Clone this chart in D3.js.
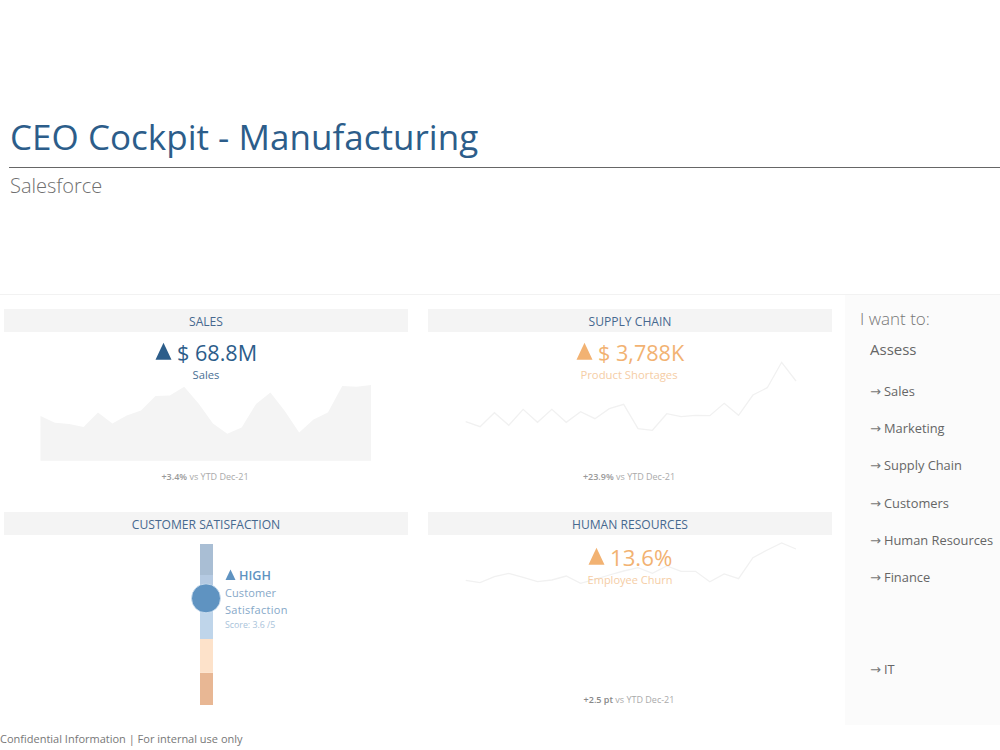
<!DOCTYPE html>
<html>
<head>
<meta charset="utf-8">
<script src="https://cdn.jsdelivr.net/npm/d3@7"></script>
<style>
  html, body { margin: 0; padding: 0; background: #fff; overflow: hidden; }
  text { font-family: "Open Sans", sans-serif; }
</style>
</head>
<body>
<script>
const months = ["Jan-20","Feb-20","Mar-20","Apr-20","May-20","Jun-20","Jul-20","Aug-20","Sep-20","Oct-20","Nov-20","Dec-20",
  "Jan-21","Feb-21","Mar-21","Apr-21","May-21","Jun-21","Jul-21","Aug-21","Sep-21","Oct-21","Nov-21","Dec-21"];

// relative units since the chart has no axis
const salesValues = [44.7,38,36.7,33.7,48.3,37.3,45.3,50.3,64.7,65.3,74,57.3,37.3,27,33.3,56.7,68.3,49.7,28.3,41.3,48.3,74.7,74,75.7];
const supplyValues = [38.3,33.3,47.3,34.7,50.7,37.7,50.7,37.7,48.3,41.3,51.3,55.7,31.3,29.7,46.3,43.3,44.7,44.3,56.7,44.7,65,72.3,97.7,79];
const churnValues = [9.7,7.3,13.3,16.7,12.7,8.3,10,14,6.7,10.7,15,19,22.3,16.7,24,18.7,18.7,8.3,16,11.3,32.3,40,47,41];

const bandEdges = [1, 1.8, 2.64, 3.65, 4.23, 5];
const bandColors = ["#e8b794", "#fde2ca", "#bfd5ea", "#b5cae2", "#a9bed4"];
const satisfactionScore = 3.65;

const navItems = ["Sales", "Marketing", "Supply Chain", "Customers", "Human Resources", "Finance", "IT"];
const navRows = [391, 428, 465, 503, 540, 577, 669];

const BLUE = "#2c5d8a", ORANGE = "#f2b272", STEEL = "#5f93c1";

const svg = d3.select("body").append("svg")
  .attr("width", 1000)
  .attr("height", 750)
  .style("display", "block");

function label(x, y, txt, size, fill, anchor, weight) {
  return svg.append("text")
    .attr("x", x)
    .attr("y", y)
    .attr("text-anchor", anchor || "start")
    .style("font-size", size + "px")
    .style("font-weight", weight || 400)
    .style("fill", fill)
    .text(txt);
}

// tableau's up triangle is taller than an equilateral one
function triangle(cx, cy, side, fill) {
  svg.append("path")
    .attr("d", d3.symbol(d3.symbolTriangle, side * side * Math.sqrt(3) / 4)())
    .attr("transform", `translate(${cx},${cy}) scale(1,1.22)`)
    .attr("fill", fill);
}

/* ---------------- Header ---------------- */
label(10, 150, "CEO Cockpit - Manufacturing", 35, BLUE, "start", 500).style("letter-spacing", "0.02px");
svg.append("line")
  .attr("x1", 9).attr("x2", 1000)
  .attr("y1", 167.5).attr("y2", 167.5)
  .attr("stroke", "#666");
label(10, 193, "Salesforce", 20, "#6f6f6f", "start", 300);

/* ---------------- Frames ---------------- */
svg.append("line")
  .attr("x1", 0).attr("x2", 1000)
  .attr("y1", 294.5).attr("y2", 294.5)
  .attr("stroke", "#f2f2f2");
svg.append("rect")
  .attr("x", 845).attr("y", 295)
  .attr("width", 155).attr("height", 430)
  .attr("fill", "#fbfbfb");

const headers = [
  {x: 4, y: 309, name: "SALES"},
  {x: 428, y: 309, name: "SUPPLY CHAIN"},
  {x: 4, y: 512, name: "CUSTOMER SATISFACTION"},
  {x: 428, y: 512, name: "HUMAN RESOURCES"}
];
headers.forEach(h => {
  svg.append("rect")
    .attr("x", h.x).attr("y", h.y)
    .attr("width", 404).attr("height", 23)
    .attr("fill", "#f4f4f4");
  label(h.x + 202, h.y + 17, h.name, 12.1, "#46688f", "middle");
});

/* ---------------- Sales ---------------- */
const xSales = d3.scalePoint().domain(months).range([40.5, 371]);
const ySales = d3.scaleLinear().domain([0, 75.7]).range([460.7, 385]);
svg.append("path")
  .attr("d", d3.area()
    .x((d, i) => xSales(months[i]))
    .y0(ySales(0))
    .y1(d => ySales(d))(salesValues))
  .attr("fill", "#f4f4f4");
triangle(163.5, 354, 16, BLUE);
label(177, 360.5, "$ 68.8M", 21.6, BLUE);
label(206, 379, "Sales", 11.2, "#4a6f95", "middle");
const salesNote = label(205, 480, "", 9, "#aaa", "middle");
salesNote.append("tspan").style("font-weight", 600).style("fill", "#999").text("+3.4%");
salesNote.append("tspan").text(" vs YTD Dec-21");

/* ---------------- Supply chain ---------------- */
const xRight = d3.scalePoint().domain(months).range([465.7, 796]);
const ySupply = d3.scaleLinear().domain([0, 100]).range([460, 360]);
svg.append("path")
  .attr("d", d3.line()
    .x((d, i) => xRight(months[i]))
    .y(d => ySupply(d))(supplyValues))
  .attr("fill", "none")
  .attr("stroke", "#f1f1f1")
  .attr("stroke-width", 1.3);
triangle(584.5, 354, 16, ORANGE);
label(598, 360.5, "$ 3,788K", 21.6, ORANGE);
label(629, 379, "Product Shortages", 11.3, "#f5cda5", "middle");
const supplyNote = label(629, 480, "", 9, "#aaa", "middle");
supplyNote.append("tspan").style("font-weight", 600).style("fill", "#999").text("+23.9%");
supplyNote.append("tspan").text(" vs YTD Dec-21");

/* ---------------- Customer satisfaction ---------------- */
const yScore = d3.scaleLinear().domain([1, 5]).range([705, 544]);
svg.selectAll(".band")
  .data(bandColors)
  .join("rect")
  .attr("class", "band")
  .attr("x", 200)
  .attr("width", 13)
  .attr("y", (d, i) => yScore(bandEdges[i + 1]))
  .attr("height", (d, i) => yScore(bandEdges[i]) - yScore(bandEdges[i + 1]))
  .attr("fill", d => d);
svg.append("circle")
  .attr("cx", 206)
  .attr("cy", yScore(satisfactionScore))
  .attr("r", 14.5)
  .attr("fill", STEEL)
  .attr("stroke", "#d5e4f2")
  .attr("stroke-width", 0.8);
triangle(230.5, 576.5, 10, STEEL);
label(239, 580, "HIGH", 12.6, STEEL, "start", 600);
label(225, 597, "Customer", 11, "#86a8c8").style("letter-spacing", "0.1px");
label(225, 614, "Satisfaction", 11, "#86a8c8").style("letter-spacing", "0.3px");
label(225, 628, "Score: 3.6 /5", 8.8, "#a9c3da");

/* ---------------- Human resources ---------------- */
const yChurn = d3.scaleLinear().domain([0, 100]).range([590, 490]);
svg.append("path")
  .attr("d", d3.line()
    .x((d, i) => xRight(months[i]))
    .y(d => yChurn(d))(churnValues))
  .attr("fill", "none")
  .attr("stroke", "#f1f1f1")
  .attr("stroke-width", 1.3);
triangle(596.5, 559, 16, ORANGE);
label(610, 565.5, "13.6%", 22.2, ORANGE);
label(630, 584, "Employee Churn", 11, "#f5cda5", "middle");
const hrNote = label(629, 702.5, "", 9, "#aaa", "middle");
hrNote.append("tspan").style("font-weight", 600).style("fill", "#888").text("+2.5 pt");
hrNote.append("tspan").text(" vs YTD Dec-21");

/* ---------------- Side nav ---------------- */
label(860, 325, "I want to:", 17, "#777", "start", 300);
label(870, 355, "Assess", 15, "#666");
const navGroups = svg.selectAll(".nav")
  .data(navItems)
  .join("g")
  .attr("class", "nav")
  .attr("transform", (d, i) => `translate(870,${navRows[i] + 5})`);
navGroups.append("text")
  .style("font-family", "'DejaVu Sans'")
  .style("font-size", "13px")
  .style("fill", "#777")
  .text("→");
navGroups.append("text")
  .attr("x", 14)
  .style("font-size", "12.85px")
  .style("fill", "#666")
  .text(d => d);

label(0, 743, "Confidential Information | For internal use only", 11, "#777");
</script>
</body>
</html>
